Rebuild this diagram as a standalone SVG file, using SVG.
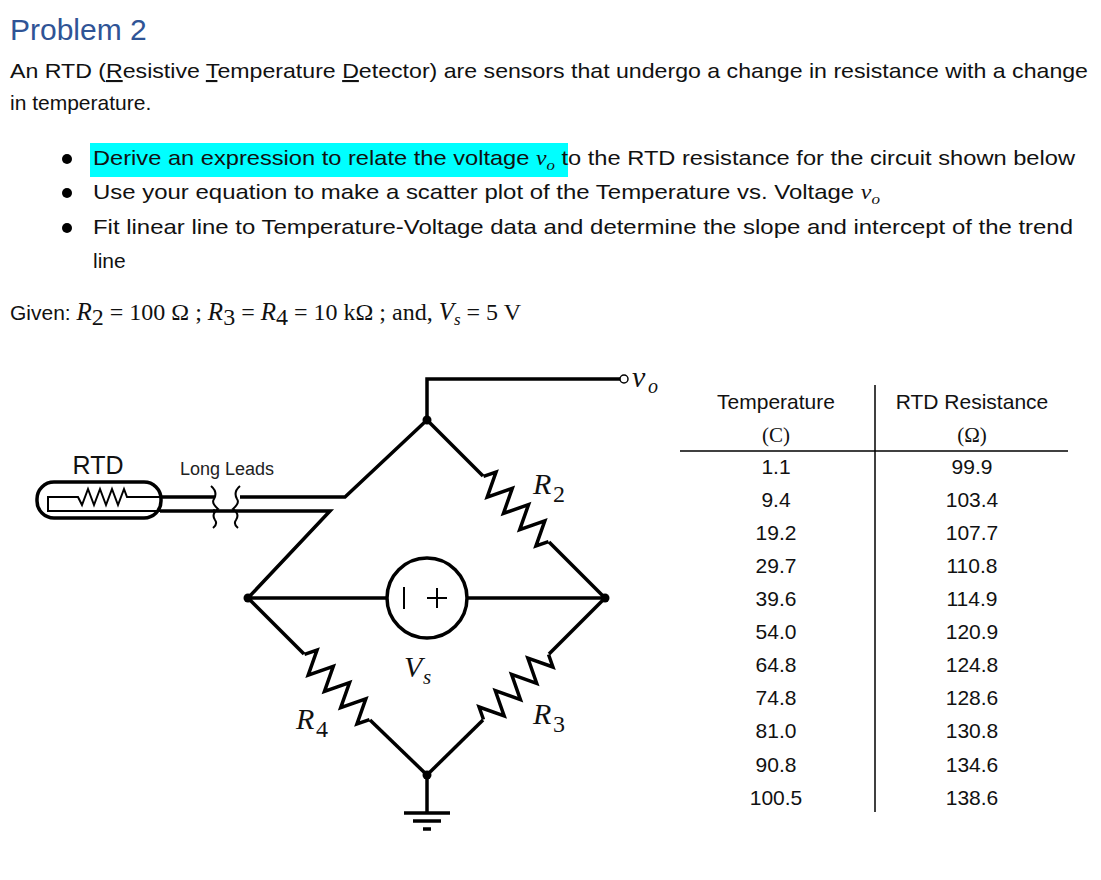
<svg xmlns="http://www.w3.org/2000/svg" width="1101" height="880" viewBox="0 0 1101 880">
<style>
.t{font-family:"Liberation Sans",Arial,sans-serif;font-size:21px;fill:#111}
.m{font-family:"Liberation Serif","DejaVu Serif",serif;font-size:24px;fill:#111}
.mi{font-family:"Liberation Serif","DejaVu Serif",serif;font-style:italic;fill:#111}
.w{fill:none;stroke:#000;stroke-width:3.5;stroke-linejoin:miter}
.thin{fill:none;stroke:#000;stroke-width:2}
.tb{font-family:"Liberation Sans",Arial,sans-serif;font-size:21px;fill:#111;text-anchor:middle}
</style>
<defs>
<path id="res" d="M-46,0 l5.75,-12 l11.5,24 l11.5,-24 l11.5,24 l11.5,-24 l11.5,24 l11.5,-24 l11.5,24 l5.75,-12" class="w"/>
</defs>
<rect width="1101" height="880" fill="#fff"/>
<text x="10" y="40" style="font-family:'Liberation Sans',Arial,sans-serif;font-size:30px;fill:#2f5496">Problem 2</text>
<text class="t" x="10" y="78" textLength="1078" lengthAdjust="spacingAndGlyphs">An RTD (<tspan text-decoration="underline">R</tspan>esistive <tspan text-decoration="underline">T</tspan>emperature <tspan text-decoration="underline">D</tspan>etector) are sensors that undergo a change in resistance with a change</text>
<text class="t" x="10" y="110">in temperature.</text>
<rect x="90" y="143" width="478" height="34" fill="#00ffff"/>
<g fill="#000"><circle cx="67" cy="159" r="5"/><circle cx="67" cy="193" r="5"/><circle cx="67" cy="228" r="5"/></g>
<text class="t" x="93" y="165" textLength="982" lengthAdjust="spacingAndGlyphs">Derive an expression to relate the voltage <tspan class="mi">v</tspan><tspan class="mi" font-size="15" dy="5">o</tspan><tspan dy="-5"> to the RTD resistance for the circuit shown below</tspan></text>
<text class="t" x="93" y="199" textLength="787" lengthAdjust="spacingAndGlyphs">Use your equation to make a scatter plot of the Temperature vs. Voltage <tspan class="mi">v</tspan><tspan class="mi" font-size="15" dy="5">o</tspan></text>
<text class="t" x="93" y="234" textLength="980" lengthAdjust="spacingAndGlyphs">Fit linear line to Temperature-Voltage data and determine the slope and intercept of the trend</text>
<text class="t" x="93" y="268">line</text>
<text x="10" y="320"><tspan class="t">Given: </tspan><tspan class="mi" font-size="25">R</tspan><tspan class="m" font-size="17" dy="5">2</tspan><tspan class="m" dy="-5"> = 100 Ω ;  </tspan><tspan class="mi" font-size="25">R</tspan><tspan class="m" font-size="17" dy="5">3</tspan><tspan class="m" dy="-5"> = </tspan><tspan class="mi" font-size="25">R</tspan><tspan class="m" font-size="17" dy="5">4</tspan><tspan class="m" dy="-5"> = 10 kΩ ;  and,  </tspan><tspan class="mi" font-size="25">V</tspan><tspan class="mi" font-size="17" dy="5">s</tspan><tspan class="m" dy="-5"> = 5 V</tspan></text>

<g id="connectors">
<polyline class="w" points="427,420 427,379 620,379"/>
<polyline class="w" points="427,420 345,497 240,497"/>
<polyline class="w" points="213,511 330,511 248,598"/>
<line class="w" x1="427" y1="420" x2="483" y2="476"/>
<line class="w" x1="549" y1="542" x2="605" y2="598"/>
<line class="w" x1="605" y1="598" x2="549" y2="654"/>
<line class="w" x1="483" y1="720" x2="427" y2="775"/>
<line class="w" x1="248" y1="598" x2="304" y2="654"/>
<line class="w" x1="370" y1="720" x2="427" y2="775"/>
<line class="w" x1="248" y1="598" x2="387" y2="598"/>
<line class="w" x1="467" y1="598" x2="605" y2="598"/>
<line class="w" x1="427" y1="775" x2="427" y2="813"/>
<line class="w" x1="160" y1="497" x2="215" y2="497"/>
<line class="w" x1="160" y1="511" x2="215" y2="511"/>
</g>
<g id="nodes" fill="#000">
<circle cx="427" cy="420" r="4.5"/><circle cx="248" cy="598" r="4.5"/><circle cx="605" cy="598" r="4.5"/><circle cx="427" cy="775" r="4.5"/>
</g>
<g id="vo"><circle cx="624" cy="379" r="4" fill="#fff" stroke="#000" stroke-width="1.5"/>
<text x="632" y="387" class="mi" font-size="30">v</text><text x="648" y="393" class="mi" font-size="20">o</text></g>
<g id="R2"><use href="#res" transform="translate(516,509) rotate(45)"/><text x="533" y="494" class="mi" font-size="30">R</text><text x="553" y="502" class="m" font-size="21">2</text></g>
<g id="R3"><use href="#res" transform="translate(516,687) rotate(135)"/><text x="533" y="724" class="mi" font-size="30">R</text><text x="553" y="732" class="m" font-size="21">3</text></g>
<g id="R4"><use href="#res" transform="translate(337,687) rotate(45)"/><text x="296" y="729" class="mi" font-size="30">R</text><text x="316" y="737" class="m" font-size="21">4</text></g>
<g id="Vs"><circle cx="427" cy="598" r="40" class="w" stroke-width="2.5"/>
<line x1="404" y1="587" x2="404" y2="609" class="thin"/><line x1="427" y1="598" x2="447" y2="598" class="thin"/><line x1="437" y1="588" x2="437" y2="608" class="thin"/>
<text x="404" y="677" class="mi" font-size="30">V</text><text x="423" y="684" class="mi" font-size="21">s</text></g>
<g id="ground"><line x1="404" y1="813" x2="450" y2="813" class="w"/><line x1="413" y1="821" x2="441" y2="821" class="w"/><line x1="423" y1="829" x2="431" y2="829" class="w"/></g>
<g id="RTD">
<text x="98" y="474" text-anchor="middle" style="font-family:'Liberation Sans',Arial,sans-serif;font-size:25px;fill:#111">RTD</text>
<rect x="37" y="482" width="124" height="36" rx="17" class="w" stroke-width="3"/>
<polyline class="thin" stroke-width="2.5" points="160,497 127,497 124,489 118,505 112,489 106,505 100,489 94,505 88,489 82,505 78,497 48,497 48,511 160,511"/>
<text x="180" y="475" style="font-family:'Liberation Sans',Arial,sans-serif;font-size:18px;fill:#222">Long Leads</text>
<path d="M211,486 q7,6 3,13 q-3,4 4,10 q-7,5 -3,11 q3,4 -2,8" class="thin"/>
<path d="M240,486 q-7,6 -3,13 q3,4 -4,10 q7,5 3,11 q-3,4 2,8" class="thin"/>
</g>
<g id="table">
<line x1="875" y1="385" x2="875" y2="812" stroke="#000" stroke-width="1.5"/>
<line x1="680" y1="451" x2="1068" y2="451" stroke="#000" stroke-width="1.5"/>
<text class="tb" x="776" y="409">Temperature</text>
<text class="tb" x="776" y="442" style="font-family:'Liberation Serif',serif">(C)</text>
<text class="tb" x="972" y="409">RTD Resistance</text>
<text class="tb" x="972" y="442" style="font-family:'Liberation Serif',serif">(Ω)</text>
<g>
<text class="tb" x="776" y="474">1.1</text><text class="tb" x="972" y="474">99.9</text>
<text class="tb" x="776" y="507">9.4</text><text class="tb" x="972" y="507">103.4</text>
<text class="tb" x="776" y="540">19.2</text><text class="tb" x="972" y="540">107.7</text>
<text class="tb" x="776" y="573">29.7</text><text class="tb" x="972" y="573">110.8</text>
<text class="tb" x="776" y="606">39.6</text><text class="tb" x="972" y="606">114.9</text>
<text class="tb" x="776" y="639">54.0</text><text class="tb" x="972" y="639">120.9</text>
<text class="tb" x="776" y="672">64.8</text><text class="tb" x="972" y="672">124.8</text>
<text class="tb" x="776" y="705">74.8</text><text class="tb" x="972" y="705">128.6</text>
<text class="tb" x="776" y="738">81.0</text><text class="tb" x="972" y="738">130.8</text>
<text class="tb" x="776" y="772">90.8</text><text class="tb" x="972" y="772">134.6</text>
<text class="tb" x="776" y="805">100.5</text><text class="tb" x="972" y="805">138.6</text>
</g>
</g>
</svg>
